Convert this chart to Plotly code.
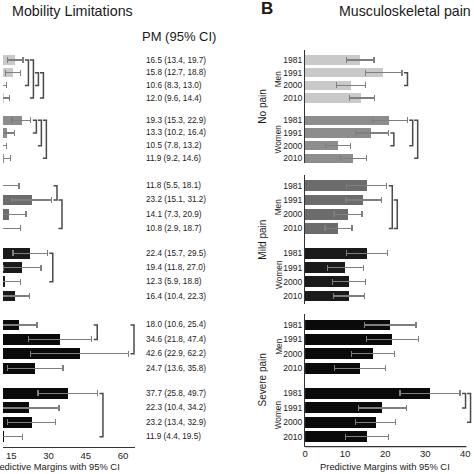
import plotly.graph_objects as go

W = H = 474
years = ["1981", "1991", "2000", "2010"]
sexes = ["Men", "Women"]
pain_groups = ["No pain", "Mild pain", "Severe pain"]

# Panel A: Mobility limitations (6 groups x 4 years): PM, lower CI, upper CI
ml_pm = [[16.5, 15.8, 10.6, 12.0], [19.3, 13.3, 10.5, 11.9], [11.8, 23.2, 14.1, 10.8],
         [22.4, 19.4, 12.3, 16.4], [18.0, 34.6, 42.6, 24.7], [37.7, 22.3, 23.2, 11.9]]
ml_lo = [[13.4, 12.7, 8.3, 9.6], [15.3, 10.2, 7.8, 9.2], [5.5, 15.1, 7.3, 2.9],
         [15.7, 11.8, 5.9, 10.4], [10.6, 21.8, 22.9, 13.6], [25.8, 10.4, 13.4, 4.4]]
ml_hi = [[19.7, 18.8, 13.0, 14.4], [22.9, 16.4, 13.2, 14.6], [18.1, 31.2, 20.9, 18.7],
         [29.5, 27.0, 18.8, 22.3], [25.4, 47.4, 62.2, 35.8], [49.7, 34.2, 32.9, 19.5]]

# Panel B: Musculoskeletal pain
mp_pm = [[13.7, 19.4, 11.5, 14.1], [21.0, 16.6, 8.2, 11.9], [15.4, 14.6, 10.8, 8.3],
         [15.5, 10.0, 11.0, 10.9], [21.3, 21.8, 16.9, 13.7], [31.1, 19.3, 17.7, 15.4]]
mp_lo = [[10.4, 15.1, 7.9, 11.0], [16.8, 12.5, 5.1, 8.8], [10.3, 10.2, 7.2, 5.0],
         [10.4, 5.6, 6.9, 7.0], [14.8, 15.3, 11.6, 7.4], [23.7, 13.3, 12.6, 10.0]]
mp_hi = [[17.2, 24.2, 15.1, 17.3], [25.5, 20.8, 11.4, 15.3], [20.4, 19.0, 14.2, 11.7],
         [20.6, 14.5, 15.1, 14.8], [27.7, 28.3, 22.4, 20.1], [38.7, 25.3, 22.6, 20.8]]

# significance brackets: (group, from year idx, to year idx, anchor year idx, level)
ml_brackets = [(0, 0, 2, 0, 0), (0, 0, 3, 0, 1), (0, 1, 2, 0, 2), (0, 1, 3, 0, 3),
               (1, 0, 1, 0, 0), (1, 0, 2, 0, 1), (1, 0, 3, 0, 2),
               (2, 0, 1, 1, 0), (2, 1, 3, 1, 1),
               (3, 0, 2, 0, 0),
               (4, 0, 1, 1, 0), (4, 0, 2, 2, 0),
               (5, 0, 3, 0, 0)]
mp_brackets = [(0, 1, 2, 1, 0),
               (1, 1, 2, 1, 0), (1, 0, 2, 0, 0), (1, 0, 3, 0, 1),
               (2, 0, 3, 0, 0), (2, 1, 3, 0, 1),
               (5, 0, 1, 0, 0), (5, 0, 2, 0, 1)]

group_colors = ["#c9c9c9", "#8d8d8d", "#6c6c6c", "#1a1a1a", "#0a0a0a", "#0a0a0a"]

FONT = "Liberation Sans, Arial, sans-serif"
TXT = "#1a1a1a"

# layout geometry (pixels from top-left)
sex_offset = [0.0, 4.75]
y_dom_px = [(50, 163), (175, 304), (314, 446.7)]
y_ranges = [(8.12, -0.79), (8.31, -0.75), (8.44, -0.76)]


def pos(sex, i):
    return sex_offset[sex] + i


def yname(p):
    return "y" if p == 0 else "y%d" % (p + 1)


fig = go.Figure()

for panel, (pm, lo, hi, xax) in enumerate([(ml_pm, ml_lo, ml_hi, "x"), (mp_pm, mp_lo, mp_hi, "x2")]):
    for g in range(6):
        p, s = g // 2, g % 2
        fig.add_trace(go.Bar(
            orientation="h",
            x=pm[g], y=[pos(s, i) for i in range(4)],
            width=0.75,
            marker=dict(color=group_colors[g], line=dict(width=0)),
            error_x=dict(type="data", symmetric=False,
                         array=[h - v for h, v in zip(hi[g], pm[g])],
                         arrayminus=[v - l for v, l in zip(pm[g], lo[g])],
                         color="#7f7f7f", thickness=1.2, width=3),
            xaxis=xax, yaxis=yname(p), showlegend=False, hoverinfo="skip",
        ))

shapes = []
for (brs, hi, xax) in [(ml_brackets, ml_hi, "x"), (mp_brackets, mp_hi, "x2")]:
    for (g, a, b, anc, lev) in brs:
        p, s = g // 2, g % 2
        off = 5.5 + 5 * lev
        y0, y1 = pos(s, a), pos(s, b)
        shapes.append(dict(
            type="path", xref=xax, yref=yname(p), xsizemode="pixel", xanchor=hi[g][anc],
            path="M%.1f,%.3f L%.1f,%.3f L%.1f,%.3f L%.1f,%.3f" % (off - 3.5, y0, off, y0, off, y1, off - 3.5, y1),
            line=dict(color="#4a4a4a", width=1.5), layer="above"))

# right panel x axis line (axis domain is wider so brackets are not clipped)
shapes.append(dict(type="line", xref="x2", yref="y3 domain", x0=0, x1=40.3, y0=0, y1=0,
                   line=dict(color="#333333", width=1.3)))

layout = dict(
    width=W, height=H, margin=dict(l=0, r=0, t=0, b=0),
    paper_bgcolor="white", plot_bgcolor="white",
    font=dict(family=FONT, color=TXT),
    bargap=0,
    xaxis=dict(domain=[0, 133.3 / W], range=[11.68, 65], anchor="y3",
               tickvals=[15, 30, 45, 60], showline=True, linecolor="#333333", linewidth=1.3,
               showgrid=False, zeroline=False, ticks="", tickfont=dict(size=9.5, color=TXT)),
    xaxis2=dict(domain=[304 / W, 1.0], range=[0, 170 / 4.03], anchor="y3",
                tickvals=[0, 10, 20, 30, 40], showline=False,
                showgrid=False, zeroline=False, ticks="", tickfont=dict(size=9.5, color=TXT)),
    shapes=shapes,
)
for p in range(3):
    top, bot = y_dom_px[p]
    key = "yaxis" if p == 0 else "yaxis%d" % (p + 1)
    layout[key] = dict(
        domain=[1 - bot / H, 1 - top / H], range=list(y_ranges[p]), anchor="x2",
        tickvals=[pos(s, i) for s in range(2) for i in range(4)],
        ticktext=years * 2, showline=True, linecolor="#333333", linewidth=1.3,
        showgrid=False, zeroline=False, ticks="", tickfont=dict(size=8.5, color=TXT))

ann = []
# titles
ann.append(dict(text="Mobility Limitations", x=7 / W, y=1 - 10.7 / H, xanchor="left", yanchor="middle",
                font=dict(size=14.3)))
ann.append(dict(text="<b>B</b>", x=265.8 / W, y=1 - 8.5 / H, xanchor="center", yanchor="middle",
                font=dict(size=17)))
ann.append(dict(text="Musculoskeletal pain", x=405 / W, y=1 - 10.7 / H, xanchor="center", yanchor="middle",
                font=dict(size=14.2)))
ann.append(dict(text="PM (95% CI)", x=176.7 / W, y=1 - 36.7 / H, xanchor="center", yanchor="middle",
                font=dict(size=13)))
# value labels from panel A data
for g in range(6):
    p, s = g // 2, g % 2
    for i in range(4):
        ann.append(dict(text="%.1f (%.1f, %.1f)" % (ml_pm[g][i], ml_lo[g][i], ml_hi[g][i]),
                        x=141.5 / W, xref="paper", y=pos(s, i), yref=yname(p),
                        xanchor="left", yanchor="middle", font=dict(size=8.2)))
# sex and pain-group labels (panel B)
for p in range(3):
    ann.append(dict(text=pain_groups[p], x=260.8 / W, y=0.5, yref=yname(p) + " domain",
                    textangle=-90, xanchor="center", yanchor="middle", font=dict(size=10)))
    for s in range(2):
        ann.append(dict(text=sexes[s], x=277 / W, y=sex_offset[s] + 1.5, yref=yname(p),
                        textangle=-90, xanchor="center", yanchor="middle", font=dict(size=8.3)))
# axis titles
for cx in (51.9, 384.5):
    ann.append(dict(text="Predictive Margins with 95% CI", x=cx / W, y=1 - 466.7 / H,
                    xanchor="center", yanchor="middle", font=dict(size=9.4)))
for a in ann:
    a.setdefault("xref", "paper")
    a.setdefault("yref", "paper")
    a["showarrow"] = False
layout["annotations"] = ann

fig.update_layout(**layout)
fig.write_html("out.html", config={"displayModeBar": False},
               post_script="document.body.style.margin='0px';document.body.style.padding='0px';")
